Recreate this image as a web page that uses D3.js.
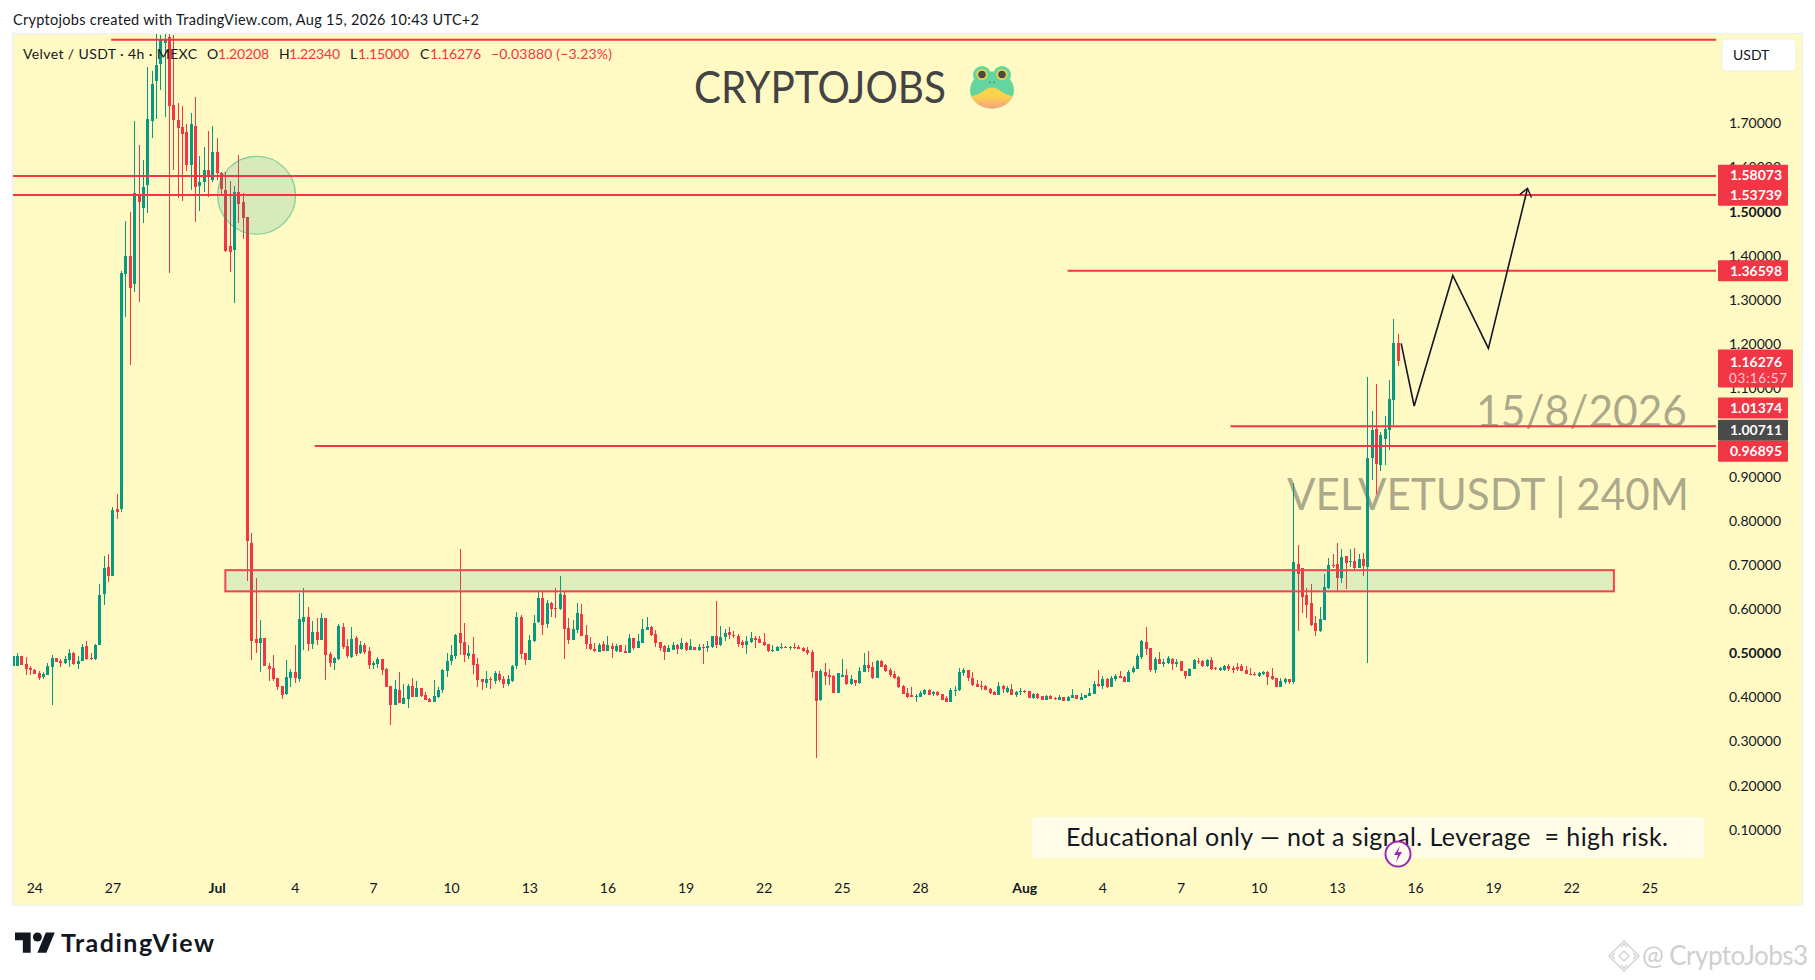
<!DOCTYPE html>
<html>
<head>
<meta charset="utf-8">
<title>Velvet / USDT</title>
<script src="https://cdn.jsdelivr.net/npm/d3@7"></script>
<style>
  html, body { margin: 0; padding: 0; background: #fff; overflow: hidden; }
  svg { display: block; font-family: Lato, sans-serif; }
</style>
</head>
<body>
<div class="container"></div>
<script>
// 4h candles, one value per bar
const opens = [
  .472,.472,.493,.475,.466,.462,.456,.446,.451,.469,
  .489,.482,.478,.484,.500,.475,.483,.516,.489,.487,
  .519,.634,.695,.675,.827,.826,1.358,1.399,1.336,1.537,
  1.509,1.560,1.705,1.795,1.834,1.882,1.895,1.741,1.707,1.691,
  1.680,1.605,1.694,1.558,1.567,1.594,1.571,1.635,1.587,1.549,
  1.422,1.413,1.544,1.521,1.487,.749,.532,.523,.534,.471,
  .466,.443,.425,.407,.443,.457,.441,.570,.582,.520,
  .548,.530,.579,.498,.477,.486,.559,.516,.491,.534,
  .500,.518,.505,.473,.475,.486,.464,.425,.382,.416,
  .385,.396,.425,.400,.421,.405,.396,.389,.400,.416,
  .459,.482,.493,.545,.525,.493,.498,.475,.441,.432,
  .441,.437,.452,.441,.430,.437,.471,.582,.500,.484,
  .527,.570,.625,.566,.613,.602,.600,.631,.557,.529,
  .552,.588,.541,.520,.509,.503,.520,.505,.516,.505,
  .518,.505,.500,.534,.511,.523,.552,.559,.543,.525,
  .516,.502,.507,.518,.509,.523,.507,.514,.507,.514,
  .511,.514,.539,.518,.536,.548,.541,.539,.525,.518,
  .525,.534,.532,.525,.520,.505,.505,.512,.515,.512,
  .514,.514,.512,.507,.503,.460,.393,.457,.450,.449,
  .410,.446,.450,.430,.439,.432,.457,.473,.469,.444,
  .482,.473,.462,.453,.446,.425,.410,.405,.401,.401,
  .407,.416,.407,.412,.407,.398,.389,.414,.416,.455,
  .462,.444,.430,.425,.425,.419,.412,.405,.425,.412,
  .419,.405,.412,.414,.414,.398,.407,.403,.394,.403,
  .398,.394,.401,.392,.398,.405,.394,.398,.403,.407,
  .430,.425,.441,.423,.441,.448,.446,.435,.457,.464,
  .491,.525,.512,.462,.487,.475,.478,.487,.475,.482,
  .460,.448,.464,.482,.482,.471,.484,.466,.462,.462,
  .470,.466,.468,.471,.462,.453,.453,.448,.453,.457,
  .448,.444,.423,.435,.441,.435,.702,.693,.632,.614,
  .568,.550,.575,.648,.700,.702,.670,.720,.706,.709,
  .693,.713,.695,.942,1.008,.926,.985,1.005,1.073,1.20208
]
const highs = [
  .493,.500,.493,.491,.471,.464,.459,.457,.478,.496,
  .489,.487,.493,.509,.503,.493,.521,.527,.500,.521,
  .657,.720,.725,.831,.860,1.365,1.478,1.499,1.705,1.650,
  1.617,1.827,1.819,1.902,1.900,1.950,1.950,1.900,1.746,1.739,
  1.698,1.723,1.759,1.626,1.646,1.682,1.694,1.666,1.589,1.589,
  1.569,1.558,1.628,1.542,1.487,.772,.670,.575,.534,.477,
  .496,.443,.425,.484,.464,.518,.636,.647,.604,.572,
  .579,.591,.579,.502,.491,.566,.568,.532,.559,.539,
  .527,.523,.514,.482,.491,.486,.466,.425,.439,.457,
  .430,.430,.443,.437,.421,.412,.398,.439,.423,.464,
  .500,.518,.543,.736,.568,.518,.536,.489,.441,.459,
  .446,.459,.459,.448,.450,.473,.593,.586,.500,.541,
  .586,.640,.640,.620,.616,.647,.674,.638,.579,.575,
  .613,.611,.563,.536,.523,.523,.527,.539,.523,.520,
  .518,.518,.543,.534,.543,.577,.582,.561,.552,.525,
  .518,.518,.525,.520,.534,.525,.532,.514,.520,.520,
  .527,.539,.618,.561,.554,.559,.550,.543,.529,.539,
  .548,.539,.539,.545,.520,.518,.516,.522,.517,.517,
  .522,.518,.515,.513,.507,.460,.464,.478,.464,.450,
  .455,.487,.464,.450,.439,.469,.500,.505,.480,.484,
  .484,.475,.466,.460,.448,.428,.421,.423,.407,.414,
  .419,.419,.414,.414,.407,.403,.421,.425,.466,.466,
  .462,.457,.439,.437,.428,.421,.414,.435,.428,.425,
  .430,.414,.421,.416,.414,.410,.410,.403,.405,.405,
  .401,.405,.401,.403,.419,.405,.410,.405,.421,.437,
  .462,.448,.444,.448,.453,.460,.448,.462,.471,.498,
  .530,.559,.512,.491,.503,.487,.493,.489,.487,.482,
  .460,.466,.487,.489,.484,.487,.491,.469,.469,.474,
  .476,.470,.478,.475,.471,.466,.457,.457,.459,.459,
  .466,.444,.444,.444,.441,.885,.745,.693,.647,.657,
  .584,.604,.679,.715,.724,.749,.736,.720,.736,.738,
  .724,.727,1.125,1.048,1.110,1.001,1.037,1.119,1.257,1.2234
]
const lows = [
  .471,.471,.474,.451,.451,.452,.439,.441,.450,.3825,
  .480,.469,.475,.469,.473,.464,.482,.484,.484,.484,
  .518,.609,.661,.675,.804,.820,1.262,1.153,1.318,1.296,
  1.474,1.496,1.666,1.709,1.775,1.714,1.361,1.594,1.530,1.524,
  1.592,1.549,1.476,1.501,1.544,1.533,1.568,1.571,1.540,1.408,
  1.363,1.293,1.474,1.438,.664,.484,.500,.457,.471,.437,
  .437,.416,.396,.405,.423,.432,.434,.507,.505,.509,
  .518,.530,.439,.468,.461,.484,.509,.489,.489,.493,
  .498,.498,.464,.464,.466,.450,.423,.337,.382,.387,
  .385,.375,.400,.400,.400,.394,.389,.389,.398,.409,
  .446,.473,.486,.496,.480,.486,.452,.423,.416,.421,
  .418,.430,.434,.421,.425,.434,.464,.486,.473,.484,
  .525,.568,.541,.557,.582,.579,.597,.486,.520,.529,
  .545,.539,.509,.507,.502,.502,.505,.505,.489,.502,
  .502,.500,.500,.507,.511,.523,.552,.539,.514,.505,
  .484,.502,.507,.498,.507,.505,.507,.507,.505,.475,
  .502,.511,.511,.516,.527,.532,.534,.514,.511,.498,
  .523,.511,.523,.516,.502,.502,.505,.510,.511,.507,
  .509,.509,.503,.496,.444,.262,.392,.428,.428,.410,
  .410,.446,.428,.428,.426,.430,.457,.457,.441,.444,
  .468,.457,.446,.441,.421,.407,.398,.401,.389,.401,
  .405,.405,.403,.403,.394,.389,.389,.403,.414,.448,
  .437,.426,.423,.416,.416,.407,.405,.405,.410,.410,
  .405,.401,.405,.410,.398,.396,.396,.394,.394,.396,
  .394,.394,.392,.392,.398,.396,.394,.398,.403,.407,
  .423,.419,.421,.423,.437,.444,.435,.435,.455,.464,
  .487,.496,.457,.455,.475,.469,.475,.462,.469,.460,
  .441,.448,.464,.475,.469,.469,.462,.462,.460,.460,
  .459,.455,.460,.459,.453,.450,.448,.446,.450,.428,
  .439,.423,.423,.430,.430,.430,.550,.591,.579,.561,
  .539,.548,.575,.645,.693,.641,.659,.645,.695,.688,
  .693,.675,.478,.892,.860,.912,.926,.960,1.017,1.15
]
const closes = [
  .493,.493,.474,.464,.462,.453,.444,.452,.471,.489,
  .481,.478,.487,.500,.475,.482,.514,.487,.487,.518,
  .632,.693,.675,.824,.820,1.361,1.399,1.327,1.543,1.521,
  1.555,1.709,1.789,1.832,1.891,1.891,1.739,1.707,1.689,1.675,
  1.605,1.698,1.555,1.567,1.594,1.580,1.635,1.587,1.551,1.410,
  1.408,1.544,1.517,1.485,.755,.527,.523,.534,.471,.464,
  .441,.423,.405,.446,.457,.443,.577,.582,.520,.548,
  .530,.579,.496,.477,.489,.561,.514,.493,.532,.498,
  .518,.502,.473,.477,.486,.461,.423,.382,.418,.387,
  .398,.425,.400,.421,.403,.394,.389,.403,.416,.461,
  .482,.496,.541,.523,.496,.500,.473,.439,.434,.441,
  .439,.455,.439,.430,.441,.471,.582,.498,.484,.529,
  .568,.625,.563,.613,.600,.600,.634,.554,.529,.554,
  .591,.539,.520,.509,.505,.518,.505,.518,.509,.516,
  .502,.500,.534,.511,.527,.554,.559,.541,.523,.511,
  .502,.511,.518,.509,.523,.507,.516,.507,.514,.511,
  .516,.539,.518,.536,.545,.541,.539,.520,.518,.527,
  .534,.529,.523,.518,.505,.507,.514,.514,.512,.515,
  .512,.509,.504,.500,.457,.392,.460,.448,.446,.410,
  .455,.450,.430,.441,.432,.460,.473,.466,.444,.482,
  .469,.460,.450,.444,.423,.407,.401,.401,.403,.410,
  .416,.405,.412,.405,.394,.389,.416,.416,.457,.462,
  .444,.428,.423,.423,.416,.410,.405,.425,.419,.421,
  .405,.412,.414,.412,.398,.407,.398,.394,.403,.396,
  .396,.401,.392,.401,.405,.396,.401,.405,.410,.430,
  .425,.441,.423,.444,.448,.444,.435,.457,.466,.493,
  .527,.509,.462,.487,.475,.480,.489,.475,.480,.460,
  .448,.464,.484,.480,.471,.484,.464,.464,.466,.470,
  .464,.462,.464,.459,.453,.451,.450,.455,.457,.446,
  .441,.423,.437,.441,.435,.706,.679,.627,.609,.564,
  .550,.577,.650,.700,.697,.670,.718,.704,.709,.693,
  .713,.697,.942,1.005,.928,.994,1.008,1.076,1.202,1.16276
]

// axes
const priceTicks = [1.7, 1.6, 1.5, 1.4, 1.3, 1.2, 1.1, 1.0, 0.9, 0.8, 0.7, 0.6, 0.5, 0.4, 0.3, 0.2, 0.1]
const boldPrices = [1.5, 0.5]
const timeTickBars = [5, 23, 47, 65, 83, 101, 119, 137, 155, 173, 191, 209, 233, 251, 269, 287, 305, 323, 341, 359, 377]
const timeTickLabels = ['24', '27', 'Jul', '4', '7', '10', '13', '16', '19', '22', '25', '28', 'Aug', '4', '7', '10', '13', '16', '19', '22', '25']

// drawn levels: price and the bar they start from
const levelPrices = [1.889, 1.58073, 1.53739, 1.36598, 1.01374, 0.96895]
const levelStartBars = [22.7, 0, 0, 243, 280.5, 69.6]

// price scale tags
const tagTexts = ['1.58073', '1.53739', '1.36598', '1.01374', '1.00711', '0.96895']
const tagPrices = [1.5825, 1.5373, 1.3660, 1.0552, 1.0050, 0.9575]
const tagColors = ['#F23645', '#F23645', '#F23645', '#F23645', '#4a4a4a', '#F23645']

// projected path, bar and price of each turn
const pathBars = [319.8, 322.8, 331.7, 339.9, 348.9]
const pathPrices = [1.2017, 1.0597, 1.3553, 1.1904, 1.5528]

// support zone and circled top
const zoneBars = [49, 368.8]
const zonePrices = [0.688, 0.640]
const circleBar = 56.2
const circlePrice = 1.537

const width = 1815
const height = 980
const panel = { left: 13, right: 1802, top: 34, bottom: 905 }
const scaleLeft = 1716
const green = '#089981'
const red = '#F23645'

const x = d3.scaleLinear().domain([5, 377]).range([34.3, 1649.5])
const y = d3.scaleLinear().domain([1.7, 0.1]).range([123.3, 829.8])
const bars = d3.range(opens.length)

const svg = d3.select('.container').append('svg')
  .attr('width', width)
  .attr('height', height)

// page header and footer
svg.append('text')
  .attr('x', 13).attr('y', 25)
  .attr('font-size', 14.5).attr('fill', '#131722')
  .attr('textLength', 466)
  .text('Cryptojobs created with TradingView.com, Aug 15, 2026 10:43 UTC+2')

svg.append('rect')
  .attr('x', panel.left - 0.5).attr('y', panel.top - 0.5)
  .attr('width', panel.right - panel.left + 1).attr('height', panel.bottom - panel.top + 1)
  .attr('fill', '#FFF9C4').attr('stroke', '#eff1f5').attr('stroke-width', 1.5)

const defs = svg.append('defs')
defs.append('clipPath').attr('id', 'pane').append('rect')
  .attr('x', panel.left).attr('y', panel.top)
  .attr('width', scaleLeft - panel.left).attr('height', panel.bottom - panel.top)
defs.append('marker')
  .attr('id', 'head').attr('viewBox', '0 0 14 14')
  .attr('refX', 13).attr('refY', 7)
  .attr('markerWidth', 14).attr('markerHeight', 14)
  .attr('markerUnits', 'userSpaceOnUse')
  .attr('orient', 'auto')
  .append('path')
  .attr('d', 'M5,1 L13,7 L5,13')
  .attr('fill', 'none').attr('stroke', '#131722').attr('stroke-width', 1.4)
const belly = defs.append('linearGradient')
  .attr('id', 'belly').attr('x1', 0).attr('x2', 0).attr('y1', 0).attr('y2', 1)
belly.append('stop').attr('offset', '35%').attr('stop-color', '#F9D34C')
belly.append('stop').attr('offset', '100%').attr('stop-color', '#FB8F8F')
defs.append('clipPath').attr('id', 'frogHead').append('ellipse')
  .attr('cx', 992).attr('cy', 90).attr('rx', 22).attr('ry', 18.5)

// watermark texts sit under the candles
const chart = svg.append('g').attr('clip-path', 'url(#pane)')
chart.append('text')
  .attr('x', 1476).attr('y', 427)
  .attr('font-size', 45).attr('fill', 'rgba(67,67,67,0.45)')
  .attr('textLength', 211).attr('lengthAdjust', 'spacingAndGlyphs')
  .text('15/8/2026')
chart.append('text')
  .attr('x', 1287).attr('y', 510)
  .attr('font-size', 45).attr('fill', 'rgba(67,67,67,0.45)')
  .attr('textLength', 402).attr('lengthAdjust', 'spacingAndGlyphs')
  .text('VELVETUSDT | 240M')

// candles
const bodyWidth = 3
const candles = chart.selectAll('g.candle')
  .data(bars)
  .enter()
  .append('g')
  .attr('class', 'candle')
  .attr('fill', i => closes[i] >= opens[i] ? green : red)
  .attr('shape-rendering', 'crispEdges')

candles.append('rect')
  .attr('x', i => Math.round(x(i)))
  .attr('width', 1)
  .attr('y', i => y(highs[i]))
  .attr('height', i => y(lows[i]) - y(highs[i]))

candles.append('rect')
  .attr('x', i => Math.round(x(i)) - 1)
  .attr('width', bodyWidth)
  .attr('y', i => y(Math.max(opens[i], closes[i])))
  .attr('height', i => Math.max(1, Math.abs(y(opens[i]) - y(closes[i]))))

// zone
chart.append('rect')
  .attr('x', x(zoneBars[0])).attr('width', x(zoneBars[1]) - x(zoneBars[0]))
  .attr('y', y(zonePrices[0])).attr('height', y(zonePrices[1]) - y(zonePrices[0]))
  .attr('fill', 'rgba(8,153,129,0.13)')
  .attr('stroke', '#F2444F').attr('stroke-width', 2)

// circle
chart.append('circle')
  .attr('cx', x(circleBar)).attr('cy', y(circlePrice))
  .attr('r', 39)
  .attr('fill', 'rgba(8,153,129,0.16)')
  .attr('stroke', 'rgba(8,170,120,0.5)').attr('stroke-width', 1.2)

// horizontal levels
chart.selectAll('line.level')
  .data(levelPrices)
  .enter()
  .append('line')
  .attr('class', 'level')
  .attr('x1', (d, i) => x(levelStartBars[i]))
  .attr('x2', scaleLeft)
  .attr('y1', d => y(d)).attr('y2', d => y(d))
  .attr('stroke', red).attr('stroke-width', 2)

// projected path
const pathLine = d3.line()
  .x(d => x(d[0]))
  .y(d => y(d[1]))
chart.append('path')
  .attr('d', pathLine(d3.zip(pathBars, pathPrices)))
  .attr('fill', 'none').attr('stroke', '#131722').attr('stroke-width', 1.6)
  .attr('marker-end', 'url(#head)')

// title with the frog
svg.append('text')
  .attr('x', 694).attr('y', 103)
  .attr('font-size', 45).attr('fill', '#434343')
  .attr('textLength', 252).attr('lengthAdjust', 'spacingAndGlyphs')
  .text('CRYPTOJOBS')

const frog = svg.append('g')
frog.append('circle').attr('cx', 982).attr('cy', 75).attr('r', 9).attr('fill', '#63D6A0')
frog.append('circle').attr('cx', 1002).attr('cy', 75).attr('r', 9).attr('fill', '#63D6A0')
frog.append('ellipse').attr('cx', 992).attr('cy', 90).attr('rx', 22).attr('ry', 18.5).attr('fill', '#63D6A0')
frog.append('path')
  .attr('clip-path', 'url(#frogHead)')
  .attr('d', 'M968,98 Q982,93 986,89 Q992,86 998,89 Q1002,93 1016,98 L1016,112 L968,112 Z')
  .attr('fill', 'url(#belly)')
;[982, 1002].forEach(cx => {
  frog.append('circle').attr('cx', cx).attr('cy', 74.5).attr('r', 5.5).attr('fill', '#F5D33F')
  frog.append('circle').attr('cx', cx).attr('cy', 74.5).attr('r', 3.8).attr('fill', '#4a4a4a')
})
;[990, 994].forEach(cx => {
  frog.append('circle').attr('cx', cx).attr('cy', 82.5).attr('r', 0.7).attr('fill', '#3a5a4a')
})

// legend line
const legend = svg.append('text').attr('y', 59).attr('font-size', 14)
const legendParts = [
  { t: 'Velvet / USDT · 4h · MEXC', c: '#131722', px: 23, len: 174 },
  { t: 'O', c: '#131722', px: 207 }, { t: '1.20208', c: red, px: 218, len: 51 },
  { t: 'H', c: '#131722', px: 279 }, { t: '1.22340', c: red, px: 289, len: 51 },
  { t: 'L', c: '#131722', px: 350 }, { t: '1.15000', c: red, px: 358, len: 51 },
  { t: 'C', c: '#131722', px: 420 }, { t: '1.16276', c: red, px: 430, len: 51 },
  { t: '−0.03880 (−3.23%)', c: red, px: 491, len: 121 }
]
legendParts.forEach(p => {
  const s = legend.append('tspan').attr('x', p.px).attr('fill', p.c).text(p.t)
  if (p.len) s.attr('textLength', p.len)
})

// disclaimer strip
svg.append('rect')
  .attr('x', 1032).attr('y', 817).attr('width', 672).attr('height', 41)
  .attr('fill', 'rgba(255,255,255,0.6)')
svg.append('text')
  .attr('x', 1066).attr('y', 846)
  .attr('font-size', 25).attr('fill', '#131722')
  .style('white-space', 'pre')
  .attr('textLength', 602)
  .text('Educational only — not a signal. Leverage  = high risk.')

// lightning marker
svg.append('circle')
  .attr('cx', 1398).attr('cy', 854).attr('r', 12.5)
  .attr('fill', '#fffdf0').attr('stroke', '#9C27B0').attr('stroke-width', 2)
svg.append('path')
  .attr('d', 'M1400,846 L1394,855 L1398,855 L1396,862 L1402,852 L1398,852 Z')
  .attr('fill', '#9C27B0')

// price axis
const priceAxis = d3.axisRight(y)
  .tickValues(priceTicks)
  .tickSize(0)
  .tickPadding(13)
  .tickFormat(d => d.toFixed(5))
const priceG = svg.append('g')
  .attr('transform', `translate(${scaleLeft},0)`)
  .call(priceAxis)
priceG.select('.domain').remove()
priceG.selectAll('text')
  .attr('font-family', 'Lato, sans-serif')
  .attr('font-size', 14)
  .attr('fill', '#131722')
  .attr('font-weight', d => boldPrices.includes(d) ? 700 : 400)

// time axis
const timeAxis = d3.axisBottom(x)
  .tickValues(timeTickBars)
  .tickSize(0)
  .tickPadding(0)
  .tickFormat((d, i) => timeTickLabels[i])
const timeG = svg.append('g')
  .attr('transform', 'translate(0,883)')
  .call(timeAxis)
timeG.select('.domain').remove()
timeG.selectAll('text')
  .attr('font-family', 'Lato, sans-serif')
  .attr('font-size', 14)
  .attr('fill', '#131722')
  .attr('font-weight', (d, i) => isNaN(timeTickLabels[i]) ? 700 : 400)

// tags on the price axis
const tags = svg.selectAll('g.tag')
  .data(tagTexts)
  .enter()
  .append('g')
  .attr('class', 'tag')
tags.append('rect')
  .attr('x', 1718).attr('width', 70).attr('height', 21)
  .attr('y', (d, i) => y(tagPrices[i]) - 10.5)
  .attr('rx', 1)
  .attr('fill', (d, i) => tagColors[i])
tags.append('text')
  .attr('x', 1730)
  .attr('y', (d, i) => y(tagPrices[i]) + 5)
  .attr('font-size', 14).attr('font-weight', 700)
  .attr('fill', '#fff')
  .text(d => d)

// last price tag with countdown
const lastTag = svg.append('g')
lastTag.append('rect')
  .attr('x', 1718).attr('width', 75)
  .attr('y', y(closes[closes.length - 1]) - 11).attr('height', 38)
  .attr('rx', 1)
  .attr('fill', red)
lastTag.append('text')
  .attr('x', 1730).attr('y', y(closes[closes.length - 1]) + 6)
  .attr('font-size', 14).attr('font-weight', 700).attr('fill', '#fff')
  .text(closes[closes.length - 1].toFixed(5))
lastTag.append('text')
  .attr('x', 1729).attr('y', y(closes[closes.length - 1]) + 22)
  .attr('font-size', 13.5).attr('fill', '#ffc9cf')
  .attr('textLength', 58)
  .text('03:16:57')

// currency button
svg.append('rect')
  .attr('x', 1722).attr('y', 39).attr('width', 74).attr('height', 32)
  .attr('rx', 5)
  .attr('fill', '#fff').attr('stroke', '#f0f0e6')
svg.append('text')
  .attr('x', 1733).attr('y', 60)
  .attr('font-size', 14).attr('fill', '#131722')
  .text('USDT')

// logo
svg.append('g')
  .attr('transform', 'translate(15,928) scale(1.12)')
  .call(g => {
    g.append('path').attr('d', 'M14 22H7V11H0V4h14v18zM28 22h-8l7.5-18h8L28 22z').attr('fill', '#131722')
    g.append('circle').attr('cx', 20).attr('cy', 8).attr('r', 4).attr('fill', '#131722')
  })
svg.append('text')
  .attr('x', 61).attr('y', 952)
  .attr('font-size', 25).attr('font-weight', 700).attr('fill', '#131722')
  .attr('textLength', 153)
  .text('TradingView')

// bottom right mark
const mark = svg.append('g').attr('fill', 'none').attr('stroke', '#d6d6d6').attr('stroke-width', 1.5)
mark.append('path').attr('d', 'M1624,941 L1639,956 L1624,971 L1609,956 Z')
mark.append('path').attr('d', 'M1624,951 L1629,956 L1624,961 L1619,956 Z')
mark.append('path').attr('d', 'M1615,953 L1612,956 L1615,959 M1633,953 L1636,956 L1633,959 M1621,947 L1624,944 L1627,947 M1621,965 L1624,968 L1627,965')
svg.append('text')
  .attr('x', 1642).attr('y', 965)
  .attr('font-size', 26).attr('fill', '#cfcfcf')
  .attr('textLength', 166)
  .text('@ CryptoJobs3')
</script>
</body>
</html>
